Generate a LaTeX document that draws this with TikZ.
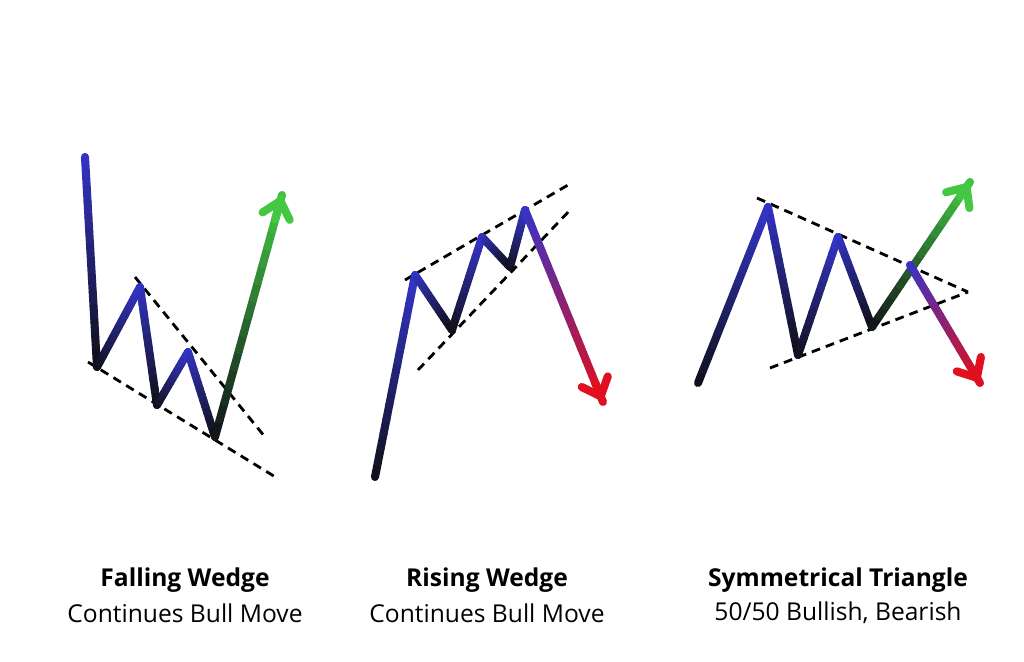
\documentclass[tikz,border=0pt]{standalone}
\usepackage{fontspec}
\setmainfont{Open Sans}
\usetikzlibrary{arrows.meta}
\usetikzlibrary{calc}

\definecolor{trendblue}{HTML}{3434C8}
\definecolor{trendblack}{HTML}{101018}
\definecolor{bullgreen}{HTML}{44C844}
\definecolor{bearred}{HTML}{E0101E}

\tikzset{
  trend/.style={line width=4.6pt,line cap=round,line join=round},
  bound/.style={line width=1.6pt,dashed,dash pattern=on 5pt off 3.5pt},
  title/.style={font=\fontsize{14}{16}\selectfont\bfseries},
  subtitle/.style={font=\fontsize{14}{16}\selectfont}
}

% colour runs from #3 at (#1) to #4 at (#2)
\newcommand\gradseg[4]{%
  \foreach \i in {0,...,13} {
    \pgfmathsetmacro\ta{\i/14}
    \pgfmathsetmacro\tb{(\i+1)/14}
    \pgfmathsetmacro\p{100-100*(\i+0.5)/14}
    \draw[trend,#3!\p!#4] ($(#1)!\ta!(#2)$) -- ($(#1)!\tb!(#2)$);
  }
}
\newcommand\gradarrow[4]{%
  \gradseg{#1}{#2}{#3}{#4}
  \draw[trend,#4,-{Straight Barb[length=9pt,width=16pt,line cap=round]}] ($(#1)!0.9!(#2)$) -- (#2);
}

\begin{document}
\begin{tikzpicture}[x=0.02cm,y=-0.02cm]
\useasboundingbox (0,0) rectangle (1024,662);

% falling wedge
\coordinate (f0) at (85,157);
\coordinate (f1) at (97,367);
\coordinate (f2) at (140,287);
\coordinate (f3) at (157,405);
\coordinate (f4) at (188,352);
\coordinate (f5) at (215,437);
\coordinate (f6) at (282,195);
\draw[bound] (135,277) coordinate (fu1) -- (265,437) coordinate (fu2);
\draw[bound] (88,362) coordinate (fl1) -- (277,478) coordinate (fl2);
\gradseg{f0}{f1}{trendblue}{trendblack}
\gradseg{f1}{f2}{trendblack}{trendblue}
\gradseg{f2}{f3}{trendblue}{trendblack}
\gradseg{f3}{f4}{trendblack}{trendblue}
\gradseg{f4}{f5}{trendblue}{trendblack}
\gradarrow{f5}{f6}{trendblack}{bullgreen}

% rising wedge
\coordinate (r0) at (375,477);
\coordinate (r1) at (415,275);
\coordinate (r2) at (452,330);
\coordinate (r3) at (482,237);
\coordinate (r4) at (510,267);
\coordinate (r5) at (525,210);
\coordinate (r6) at (603,402);
\draw[bound] (405,280) coordinate (ru1) -- (568,185) coordinate (ru2);
\draw[bound] (418,370) coordinate (rl1) -- (572,208) coordinate (rl2);
\gradseg{r0}{r1}{trendblack}{trendblue}
\gradseg{r1}{r2}{trendblue}{trendblack}
\gradseg{r2}{r3}{trendblack}{trendblue}
\gradseg{r3}{r4}{trendblue}{trendblack}
\gradseg{r4}{r5}{trendblack}{trendblue}
\gradarrow{r5}{r6}{trendblue}{bearred}

% symmetrical triangle
\coordinate (s0) at (698,383);
\coordinate (s1) at (768,207);
\coordinate (s2) at (798,355);
\coordinate (s3) at (838,237);
\coordinate (s4) at (872,327);
\coordinate (s5) at (910,265);
\coordinate (s6) at (970,182);
\coordinate (s7) at (980,383);
\draw[bound] (757,198) coordinate (su1) -- (968,292) coordinate (sa);
\draw[bound] (770,368) coordinate (sl1) -- (sa);
\gradseg{s0}{s1}{trendblack}{trendblue}
\gradseg{s1}{s2}{trendblue}{trendblack}
\gradseg{s2}{s3}{trendblack}{trendblue}
\gradseg{s3}{s4}{trendblue}{trendblack}
\gradarrow{s4}{s6}{trendblack}{bullgreen}
\gradarrow{s5}{s7}{trendblue}{bearred}

% captions
\node[title] (ft) at (185,580) {Falling Wedge};
\node[subtitle] (fs) at (185,613) {Continues Bull Move};
\node[title] (rt) at (487,580) {Rising Wedge};
\node[subtitle] (rs) at (487,613) {Continues Bull Move};
\node[title] (st) at (838,580) {Symmetrical Triangle};
\node[subtitle] (ss) at (838,613) {50/50 Bullish, Bearish};
\end{tikzpicture}
\end{document}
